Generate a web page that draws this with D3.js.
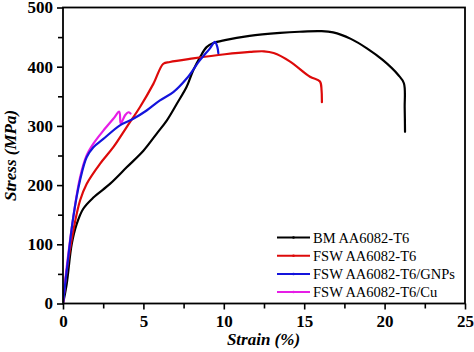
<!DOCTYPE html>
<html>
<head>
<meta charset="utf-8">
<script src="https://cdn.jsdelivr.net/npm/d3@7"></script>
<style>
html,body{margin:0;padding:0;background:#fff;}
svg{display:block;}
</style>
</head>
<body>
<svg id="chart" width="474" height="352"></svg>
<script>
// ---- data ----
const seriesNames = ["BM AA6082-T6", "FSW AA6082-T6", "FSW AA6082-T6/GNPs", "FSW AA6082-T6/Cu"];
const seriesColors = ["#000000", "#dd0a0a", "#1414dc", "#e61ee6"];

const bmStrain = [0, 0.23, 0.54, 0.85, 1.26, 1.89, 2.92, 3.96, 5.0, 5.83, 6.45, 7.07, 7.69, 8.1, 8.52, 8.93, 9.35, 10.07, 11.6, 13.5, 14.7, 16.0, 16.8, 17.9, 18.9, 19.9, 20.85, 21.2, 21.25, 21.27];
const bmStress = [0, 33, 100, 134, 160, 179, 202, 230, 258, 287, 309, 337, 366, 394, 416, 433, 440, 445, 452, 457, 459, 460, 458, 447, 431, 411, 386, 372, 330, 290];

const fswStrain = [0, 0.23, 0.64, 1.06, 1.47, 2.3, 3.13, 3.96, 4.79, 5.62, 6.24, 6.65, 8.1, 10.07, 11.63, 12.5, 13.1, 14.1, 15.36, 15.98, 16.08, 16.1];
const fswStress = [0, 55, 123, 174, 202, 236, 264, 298, 332, 371, 405, 408, 414, 421, 425, 426, 423, 409, 383, 375, 360, 340];

const gnpStrain = [0, 0.23, 0.64, 1.06, 1.47, 1.89, 2.51, 3.54, 4.37, 5.2, 6.03, 6.86, 7.69, 8.52, 9.14, 9.45, 9.6, 9.66];
const gnpStress = [0, 55, 146, 208, 247, 264, 278, 301, 312, 326, 343, 357, 380, 411, 431, 442, 433, 423];

const cuStrain = [0, 0.23, 0.64, 1.06, 1.47, 1.89, 2.51, 3.13, 3.5, 3.59, 3.86, 4.06, 4.2];
const cuStress = [0, 61, 146, 213, 250, 270, 292, 312, 324, 304, 318, 323, 321];

const xTicks = [0, 5, 10, 15, 20, 25];
const xMinorTicks = [2.5, 7.5, 12.5, 17.5, 22.5];
const yTicks = [0, 100, 200, 300, 400, 500];
const yMinorTicks = [50, 150, 250, 350, 450];

const xLabel = "Strain (%)";
const yLabel = "Stress (MPa)";

// ---- layout ----
const svg = d3.select("#chart");
const pL = 63, pR = 465, pT = 7.5, pB = 303.5;
const x = d3.scaleLinear().domain([0, 25]).range([pL, pR]);
const y = d3.scaleLinear().domain([0, 500]).range([pB, pT]);
const font = "'Liberation Serif', 'Times New Roman', serif";

const series = [
  {strain: bmStrain, stress: bmStress},
  {strain: fswStrain, stress: fswStress},
  {strain: gnpStrain, stress: gnpStress},
  {strain: cuStrain, stress: cuStress}
].map((s, i) => ({name: seriesNames[i], color: seriesColors[i], pts: s.strain.map((v, j) => [v, s.stress[j]])}));

const line = d3.line().x(d => x(d[0])).y(d => y(d[1])).curve(d3.curveCatmullRom.alpha(0.5));

svg.append("clipPath").attr("id", "clip").append("rect")
  .attr("x", pL).attr("y", pT).attr("width", pR - pL).attr("height", pB - pT);

const drawOrder = [0, 1, 3, 2];
svg.append("g").attr("clip-path", "url(#clip)")
  .selectAll("path").data(drawOrder.map(i => series[i])).join("path")
  .attr("d", d => line(d.pts))
  .attr("fill", "none")
  .attr("stroke", d => d.color)
  .attr("stroke-width", 2.2)
  .attr("stroke-linejoin", "round")
  .attr("stroke-linecap", "round");

// axes
const xAxis = svg.append("g").attr("transform", `translate(0,${pB})`)
  .call(d3.axisBottom(x).tickValues(xTicks).tickFormat(d3.format("d")).tickSize(6).tickPadding(5));
const xMinor = svg.append("g").attr("transform", `translate(0,${pB})`)
  .call(d3.axisBottom(x).tickValues(xMinorTicks).tickFormat("").tickSize(5));
const yAxis = svg.append("g").attr("transform", `translate(${pL},0)`)
  .call(d3.axisLeft(y).tickValues(yTicks).tickFormat(d3.format("d")).tickSize(6).tickPadding(4));
const yMinor = svg.append("g").attr("transform", `translate(${pL},0)`)
  .call(d3.axisLeft(y).tickValues(yMinorTicks).tickFormat("").tickSize(5));

[xAxis, xMinor, yAxis, yMinor].forEach(g => {
  g.select(".domain").remove();
  g.selectAll(".tick line").attr("stroke", "#000").attr("stroke-width", 1.6);
  g.selectAll(".tick text").attr("font-family", font).attr("font-weight", "bold")
    .attr("font-size", 17).attr("fill", "#000");
});

// frame
svg.append("rect").attr("x", pL).attr("y", pT).attr("width", pR - pL).attr("height", pB - pT)
  .attr("fill", "none").attr("stroke", "#000").attr("stroke-width", 1.8);

// axis titles
svg.append("text").attr("x", (pL + pR) / 2 - 0.5).attr("y", 345)
  .attr("text-anchor", "middle").attr("font-family", font).attr("font-weight", "bold")
  .attr("font-style", "italic").attr("font-size", 17).attr("fill", "#000").text(xLabel);
svg.append("text").attr("transform", `translate(16,${(pT + pB) / 2}) rotate(-90)`)
  .attr("text-anchor", "middle").attr("font-family", font).attr("font-weight", "bold")
  .attr("font-style", "italic").attr("font-size", 17).attr("fill", "#000").text(yLabel);

// legend
const legendY = [237.5, 255.7, 274, 292];
const lg = svg.append("g");
series.forEach((s, i) => {
  lg.append("line").attr("x1", 277).attr("x2", 310).attr("y1", legendY[i]).attr("y2", legendY[i])
    .attr("stroke", s.color).attr("stroke-width", 2);
  lg.append("circle").attr("cx", 293.5).attr("cy", legendY[i]).attr("r", 1.3).attr("fill", s.color);
  lg.append("text").attr("x", 313).attr("y", legendY[i]).attr("dy", "0.35em")
    .attr("font-family", font).attr("font-size", 14.5).attr("fill", "#000").text(s.name);
});
</script>
</body>
</html>
